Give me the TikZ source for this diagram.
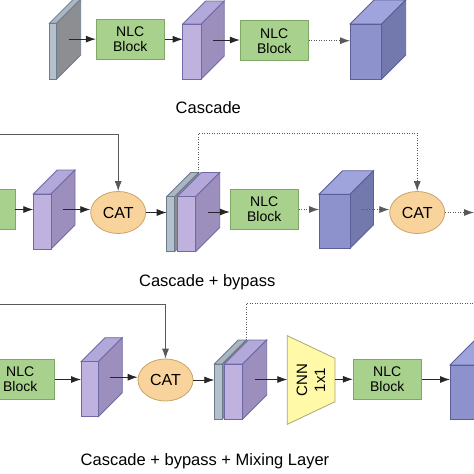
\documentclass[tikz,border=0pt]{standalone}
\usepackage{fontspec}
\setmainfont{Liberation Sans}
\usetikzlibrary{arrows.meta,shapes.geometric}
\definecolor{nlcF}{HTML}{A9D18E}
\definecolor{nlcD}{HTML}{7FA866}
\definecolor{catF}{HTML}{F9D39C}
\definecolor{catD}{HTML}{C9A46A}
\definecolor{cnnF}{HTML}{FFF9A8}
\definecolor{cnnD}{HTML}{A8A67A}
\definecolor{gslabF}{HTML}{B4C0CC}
\definecolor{gslabS}{HTML}{8C8E92}
\definecolor{gslabT}{HTML}{AAB6C4}
\definecolor{gslabD}{HTML}{6E7B8C}
\definecolor{vslabF}{HTML}{BFB2DF}
\definecolor{vslabS}{HTML}{9D8FBD}
\definecolor{vslabT}{HTML}{B3A8DA}
\definecolor{vslabD}{HTML}{6F6AA3}
\definecolor{bslabF}{HTML}{8E92CC}
\definecolor{bslabS}{HTML}{7378AD}
\definecolor{bslabT}{HTML}{A0A4DC}
\definecolor{bslabD}{HTML}{5B5F99}
\newcommand{\slab}[7]{%
  \filldraw[fill=#7T, draw=#7D] (#2,#3) -- ++(#6,-#6) -- ++(#4,0) -- ++(-#6,#6) -- cycle;
  \filldraw[fill=#7S, draw=#7D] (#2+#4,#3) -- ++(#6,-#6) -- ++(0,#5) -- ++(-#6,#6) -- cycle;
  \filldraw[fill=#7F, draw=#7D] (#2,#3) rectangle ++(#4,#5);
  \coordinate (#1-w) at (#2,#3+#5/2);
  \coordinate (#1-e) at (#2+#4+#6/2,#3+#5/2-#6/2);
  \coordinate (#1-top) at (#2+#4+#6,#3-#6);}
\begin{document}
\begin{tikzpicture}[x=1pt, y=-1pt, line width=0.8pt,
  nlc/.style={draw=nlcD, fill=nlcF, minimum width=68pt, minimum height=40pt, inner sep=0pt, align=center, font=\fontsize{14}{15}\selectfont},
  cat/.style={ellipse, draw=catD, fill=catF, minimum width=55pt, minimum height=42pt, inner sep=0pt, font=\fontsize{16}{18}\selectfont},
  flow/.style={draw=black!85, -{Latex[length=10pt,width=7pt]}},
  dots/.style={flow, draw=black!65, dash pattern=on 1pt off 1.5pt},
  bypass/.style={flow, draw=black!65},
  caption/.style={font=\fontsize{16.5}{20}\selectfont}]
  \useasboundingbox (0,0) rectangle (474,474);
  \clip (0,0) rectangle (474,474);

  \slab{g1}{49.3}{23.3}{7.4}{55.7}{24}{gslab}
  \node[nlc] (nlc1) at (130.2,39.3) {NLC\\Block};
  \slab{p1}{182.7}{24}{18.5}{55}{23}{vslab}
  \node[nlc] (nlc2) at (274.2,40.7) {NLC\\Block};
  \slab{b1}{350}{24}{31.7}{55}{24}{bslab}
  \draw[flow] (g1-e) -- (nlc1.west |- g1-e);
  \draw[flow] (nlc1.east) -- (nlc1.east -| p1-w);
  \draw[flow] (p1-e) -- (nlc2.west |- p1-e);
  \draw[dots] (nlc2.east) -- (nlc2.east -| b1-w);
  \node[caption] (cap1) at (208.3,107.3) {Cascade};

  \node[nlc] (nlc3) at (-19,209.5) {};
  \slab{p2}{33.3}{194}{17.7}{55}{24}{vslab}
  \node[cat] (cat1) at (118.2,212.5) {CAT};
  \slab{dg2}{166.7}{196.5}{8}{55}{24}{gslab}
  \slab{dp2}{177.3}{196.5}{18.4}{55}{24}{vslab}
  \node[nlc] (nlc4) at (264.2,209.5) {NLC\\Block};
  \slab{b2}{319}{194.3}{31}{54}{23.5}{bslab}
  \node[cat] (cat2) at (417.2,212.5) {CAT};
  \coordinate (in2) at (-2,134);
  \coordinate (out2) at (474,212.5);
  \draw[flow] (nlc3.east) -- (nlc3.east -| p2-w);
  \draw[flow] (p2-e) -- (cat1.west |- p2-e);
  \draw[flow] (cat1.east) -- (cat1.east -| dg2-w);
  \draw[flow] (dp2-e) -- (nlc4.west |- dp2-e);
  \draw[dots] (nlc4.east) -- (nlc4.east -| b2-w);
  \draw[dots] (b2-e) -- (cat2.west |- b2-e);
  \draw[dots] (cat2.east) -- (out2);
  \draw[bypass] (in2) -| (cat1.north);
  \draw[dots] (dg2-top) -- ++(0,-39.5) -| (cat2.north);
  \node[caption] (cap2) at (207.2,282.7) {Cascade + bypass};

  \node[nlc] (nlc5) at (20.2,379.5) {NLC\\Block};
  \slab{p3}{81}{361.7}{17.3}{55}{24}{vslab}
  \node[cat] (cat3) at (165.5,380) {CAT};
  \slab{dg3}{214.3}{364}{8}{55}{24}{gslab}
  \slab{dp3}{224.3}{364}{18.4}{55}{24}{vslab}
  \filldraw[fill=cnnF, draw=cnnD] (287.3,335.7) -- (335,358.3) -- (335,401.7) -- (287.3,424.3) -- cycle;
  \node[rotate=90, align=center, inner sep=0pt, font=\fontsize{15}{18}\selectfont] (mix) at (310.8,380) {CNN\\1x1};
  \coordinate (mix-w) at (287.3,379.3);
  \coordinate (mix-e) at (335,379.3);
  \node[nlc] (nlc6) at (387.2,379.5) {NLC\\Block};
  \slab{b3}{450}{365}{31}{54.3}{24}{bslab}
  \coordinate (in3) at (-2,304);
  \coordinate (out3) at (476,303.3);
  \draw[flow] (nlc5.east) -- (nlc5.east -| p3-w);
  \draw[flow] (p3-e) -- (cat3.west |- p3-e);
  \draw[flow] (cat3.east) -- (cat3.east -| dg3-w);
  \draw[flow] (dp3-e) -- (mix-w |- dp3-e);
  \draw[flow] (mix-e) -- (nlc6.west |- mix-e);
  \draw[flow] (nlc6.east) -- (nlc6.east -| b3-w);
  \draw[bypass] (in3) -| (cat3.north);
  \draw[draw=black!65, dash pattern=on 1pt off 1.5pt] (dg3-top) |- (out3);
  \node[caption] (cap3) at (205,461.7) {Cascade + bypass + Mixing Layer};
\end{tikzpicture}
\end{document}
